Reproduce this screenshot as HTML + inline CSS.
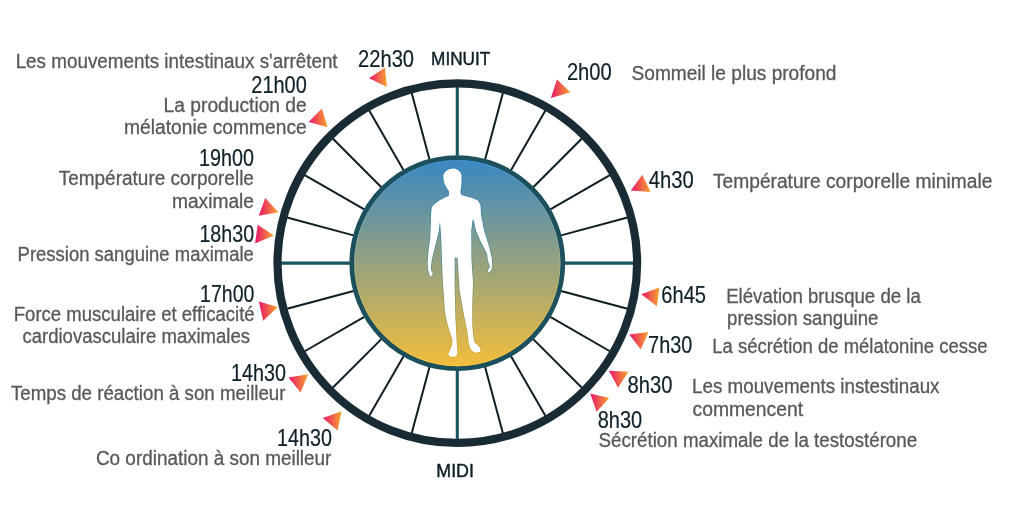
<!DOCTYPE html>
<html><head><meta charset="utf-8"><style>
html,body{margin:0;padding:0;background:#ffffff;width:1024px;height:532px;overflow:hidden}
svg{display:block;will-change:transform}
text{font-family:"Liberation Sans", sans-serif}
</style></head><body>
<svg width="1024" height="532" viewBox="0 0 1024 532">
<defs>
<linearGradient id="bg" x1="0" y1="0" x2="0" y2="1"><stop offset="0" stop-color="#3786c4"/><stop offset="1" stop-color="#f5be3a"/></linearGradient>
<linearGradient id="tg0" gradientUnits="userSpaceOnUse" x1="369.1" y1="0" x2="387.0" y2="0"><stop offset="0" stop-color="#e8156d"/><stop offset="1" stop-color="#f8a52b"/></linearGradient>
<linearGradient id="tg1" gradientUnits="userSpaceOnUse" x1="308.6" y1="0" x2="327.7" y2="0"><stop offset="0" stop-color="#e8156d"/><stop offset="1" stop-color="#f8a52b"/></linearGradient>
<linearGradient id="tg2" gradientUnits="userSpaceOnUse" x1="258.8" y1="0" x2="278.4" y2="0"><stop offset="0" stop-color="#e8156d"/><stop offset="1" stop-color="#f8a52b"/></linearGradient>
<linearGradient id="tg3" gradientUnits="userSpaceOnUse" x1="255.1" y1="0" x2="273.9" y2="0"><stop offset="0" stop-color="#e8156d"/><stop offset="1" stop-color="#f8a52b"/></linearGradient>
<linearGradient id="tg4" gradientUnits="userSpaceOnUse" x1="258.8" y1="0" x2="277.8" y2="0"><stop offset="0" stop-color="#e8156d"/><stop offset="1" stop-color="#f8a52b"/></linearGradient>
<linearGradient id="tg5" gradientUnits="userSpaceOnUse" x1="288.5" y1="0" x2="308.2" y2="0"><stop offset="0" stop-color="#e8156d"/><stop offset="1" stop-color="#f8a52b"/></linearGradient>
<linearGradient id="tg6" gradientUnits="userSpaceOnUse" x1="322.8" y1="0" x2="341.6" y2="0"><stop offset="0" stop-color="#e8156d"/><stop offset="1" stop-color="#f8a52b"/></linearGradient>
<linearGradient id="tg7" gradientUnits="userSpaceOnUse" x1="550.9" y1="0" x2="570.5" y2="0"><stop offset="0" stop-color="#e8156d"/><stop offset="1" stop-color="#f8a52b"/></linearGradient>
<linearGradient id="tg8" gradientUnits="userSpaceOnUse" x1="630.8" y1="0" x2="650.6" y2="0"><stop offset="0" stop-color="#e8156d"/><stop offset="1" stop-color="#f8a52b"/></linearGradient>
<linearGradient id="tg9" gradientUnits="userSpaceOnUse" x1="641.3" y1="0" x2="659.3" y2="0"><stop offset="0" stop-color="#e8156d"/><stop offset="1" stop-color="#f8a52b"/></linearGradient>
<linearGradient id="tg10" gradientUnits="userSpaceOnUse" x1="629.3" y1="0" x2="648.5" y2="0"><stop offset="0" stop-color="#e8156d"/><stop offset="1" stop-color="#f8a52b"/></linearGradient>
<linearGradient id="tg11" gradientUnits="userSpaceOnUse" x1="608.9" y1="0" x2="628.4" y2="0"><stop offset="0" stop-color="#e8156d"/><stop offset="1" stop-color="#f8a52b"/></linearGradient>
<linearGradient id="tg12" gradientUnits="userSpaceOnUse" x1="590.2" y1="0" x2="609.3" y2="0"><stop offset="0" stop-color="#e8156d"/><stop offset="1" stop-color="#f8a52b"/></linearGradient>
<linearGradient id="og" gradientUnits="userSpaceOnUse" x1="0" y1="160" x2="0" y2="366"><stop offset="0" stop-color="#1a74b8"/><stop offset="0.5" stop-color="#4f8a8a"/><stop offset="1" stop-color="#eca510"/></linearGradient>
<linearGradient id="hg" gradientUnits="userSpaceOnUse" x1="0" y1="158" x2="0" y2="368"><stop offset="0" stop-color="#4799d8"/><stop offset="1" stop-color="#fcc93e"/></linearGradient>
</defs>
<line x1="457.30" y1="155.75" x2="457.30" y2="86.95" stroke="#1a5562" stroke-width="3.1"/>
<line x1="485.10" y1="159.41" x2="502.90" y2="92.95" stroke="#0f1d24" stroke-width="2"/>
<line x1="511.00" y1="170.14" x2="545.40" y2="110.56" stroke="#0f1d24" stroke-width="2"/>
<line x1="533.24" y1="187.21" x2="581.89" y2="138.56" stroke="#0f1d24" stroke-width="2"/>
<line x1="550.31" y1="209.45" x2="609.89" y2="175.05" stroke="#0f1d24" stroke-width="2"/>
<line x1="561.04" y1="235.35" x2="627.50" y2="217.55" stroke="#0f1d24" stroke-width="2"/>
<line x1="564.70" y1="263.15" x2="633.50" y2="263.15" stroke="#1a5562" stroke-width="3.1"/>
<line x1="561.04" y1="290.95" x2="627.50" y2="308.75" stroke="#0f1d24" stroke-width="2"/>
<line x1="550.31" y1="316.85" x2="609.89" y2="351.25" stroke="#0f1d24" stroke-width="2"/>
<line x1="533.24" y1="339.09" x2="581.89" y2="387.74" stroke="#0f1d24" stroke-width="2"/>
<line x1="511.00" y1="356.16" x2="545.40" y2="415.74" stroke="#0f1d24" stroke-width="2"/>
<line x1="485.10" y1="366.89" x2="502.90" y2="433.35" stroke="#0f1d24" stroke-width="2"/>
<line x1="457.30" y1="370.55" x2="457.30" y2="439.35" stroke="#1a5562" stroke-width="3.1"/>
<line x1="429.50" y1="366.89" x2="411.70" y2="433.35" stroke="#0f1d24" stroke-width="2"/>
<line x1="403.60" y1="356.16" x2="369.20" y2="415.74" stroke="#0f1d24" stroke-width="2"/>
<line x1="381.36" y1="339.09" x2="332.71" y2="387.74" stroke="#0f1d24" stroke-width="2"/>
<line x1="364.29" y1="316.85" x2="304.71" y2="351.25" stroke="#0f1d24" stroke-width="2"/>
<line x1="353.56" y1="290.95" x2="287.10" y2="308.75" stroke="#0f1d24" stroke-width="2"/>
<line x1="349.90" y1="263.15" x2="281.10" y2="263.15" stroke="#1a5562" stroke-width="3.1"/>
<line x1="353.56" y1="235.35" x2="287.10" y2="217.55" stroke="#0f1d24" stroke-width="2"/>
<line x1="364.29" y1="209.45" x2="304.71" y2="175.05" stroke="#0f1d24" stroke-width="2"/>
<line x1="381.36" y1="187.21" x2="332.71" y2="138.56" stroke="#0f1d24" stroke-width="2"/>
<line x1="403.60" y1="170.14" x2="369.20" y2="110.56" stroke="#0f1d24" stroke-width="2"/>
<line x1="429.50" y1="159.41" x2="411.70" y2="92.95" stroke="#0f1d24" stroke-width="2"/>
<circle cx="457.3" cy="263.15" r="179.8" fill="none" stroke="#192c36" stroke-width="8.2"/>
<circle cx="457.3" cy="263.15" r="105.5" fill="url(#bg)" stroke="#1c505d" stroke-width="4.8"/>
<circle cx="457.3" cy="263.15" r="102.65" fill="none" stroke="url(#hg)" stroke-width="0.9" opacity="0.85"/>
<path d="M 453 168.5
C 447 168.5 443 172.5 443.3 177.5
C 443.5 183 446.5 188 449 191.5
L 448.8 195.8
C 443 198.5 436.9 201 431.9 206.9
C 431 211 431 216 431 220.4
L 430.2 237.4
L 428.5 250.9
L 427.6 262.8
C 427.6 268 428.5 273 430.2 276.4
C 431.5 276.4 433 274.5 432.7 273
C 431.5 271 430.8 270 431 269.6
C 431 265 431.5 261 431.9 259.4
L 435.3 245.8
L 438.6 232.3
L 440 221.3
L 441.2 237.4
L 442 262
C 442.5 275 443 285 443.5 290
L 444.9 311.1
C 446 320 449.1 329.4 449.1 329.4
C 451 335 452.6 340.7 452.6 340.7
C 452 345 450.5 349.2 450.5 349.2
C 449 352 448 354 448.4 354.8
C 449 356.5 451.9 356.9 451.9 356.9
C 454 357 456.1 356.2 456.1 356.2
C 457.5 354.5 457.5 352 457.5 352
L 456.8 343.5
L 455.4 318.2
L 454.7 290
L 454.7 257.7
C 456 257.5 457 257.5 457.5 258
L 459.6 290
L 463.2 311.1
L 467.4 332.3
L 468.8 343.5
C 469.5 347 470.5 349.5 471.6 350.6
C 473 352 475.8 352.7 475.8 352.7
C 478 353 480.8 351.3 480.8 351.3
L 480.1 347.7
C 478 345.5 474.4 342.1 474.4 342.1
C 473 335 472.3 325.2 472.3 325.2
L 472.3 304.1
L 473 282
L 471.5 260
L 471.3 230.1
L 472.8 218.8
L 474.3 222.6
L 475.8 230.1
L 479.5 239.1
L 484.8 249.6
L 487.1 254.1
L 487.8 260.2
L 490 266.9
C 489 268 487.8 270.7 487.8 270.7
C 488 272 489.3 272.2 489.3 272.2
C 490.5 271.5 491.6 269.2 491.6 269.2
L 492.3 264.7
L 491.6 257.1
L 488.6 245.1
L 484 230
L 481 215
C 481 209 480.3 204.5 480.3 204.5
C 479 202 477.3 200 477.3 200
C 472 197.5 464 196 461.3 194.7
L 460.4 191.9
C 461.5 187 462 180 461.5 175
C 460.5 171 457.5 168.5 453 168.5 Z" fill="#ffffff" stroke="url(#og)" stroke-width="1.4" paint-order="stroke"/>
<polygon points="384.9,67.6 387.0,87.0 369.1,78.3" fill="url(#tg0)"/>
<polygon points="321.9,108.4 327.7,127.3 308.6,121.9" fill="url(#tg1)"/>
<polygon points="265.2,197.9 278.4,212.2 258.8,215.7" fill="url(#tg2)"/>
<polygon points="257.7,224.7 273.9,235.6 255.1,243.5" fill="url(#tg3)"/>
<polygon points="258.8,301.5 277.8,307.1 263.2,320.7" fill="url(#tg4)"/>
<polygon points="288.5,377.5 308.2,374.2 300.6,392.5" fill="url(#tg5)"/>
<polygon points="322.8,418.0 341.6,411.3 337.5,430.4" fill="url(#tg6)"/>
<polygon points="556.9,79.4 570.5,92.2 550.9,98.1" fill="url(#tg7)"/>
<polygon points="642.3,174.8 650.6,191.9 630.8,190.6" fill="url(#tg8)"/>
<polygon points="641.3,294.3 659.3,287.5 657.0,306.3" fill="url(#tg9)"/>
<polygon points="629.3,334.5 648.5,332.1 640.8,349.5" fill="url(#tg10)"/>
<polygon points="608.9,370.7 628.4,371.7 618.1,387.7" fill="url(#tg11)"/>
<polygon points="590.2,393.6 609.3,398.1 596.6,411.8" fill="url(#tg12)"/>
<text x="15.65" y="67.60" font-size="20" fill="#5a5759" stroke="#5a5759" stroke-width="0.3" textLength="321.98" lengthAdjust="spacingAndGlyphs">Les mouvements intestinaux s&#39;arrêtent</text>
<text x="358.09" y="67.00" font-size="24" fill="#0f2029" stroke="#0f2029" stroke-width="0.2" textLength="56.00" lengthAdjust="spacingAndGlyphs">22h30</text>
<text x="431.09" y="65.20" font-size="18.9" fill="#0f2029" stroke="#0f2029" stroke-width="0.45" textLength="59.20" lengthAdjust="spacingAndGlyphs">MINUIT</text>
<text x="251.30" y="93.20" font-size="24" fill="#0f2029" stroke="#0f2029" stroke-width="0.2" textLength="55.48" lengthAdjust="spacingAndGlyphs">21h00</text>
<text x="163.62" y="111.90" font-size="20" fill="#5a5759" stroke="#5a5759" stroke-width="0.3" textLength="143.13" lengthAdjust="spacingAndGlyphs">La production de</text>
<text x="124.02" y="134.30" font-size="20" fill="#5a5759" stroke="#5a5759" stroke-width="0.3" textLength="182.73" lengthAdjust="spacingAndGlyphs">mélatonie commence</text>
<text x="198.99" y="166.10" font-size="24" fill="#0f2029" stroke="#0f2029" stroke-width="0.2" textLength="54.98" lengthAdjust="spacingAndGlyphs">19h00</text>
<text x="58.68" y="185.20" font-size="20" fill="#5a5759" stroke="#5a5759" stroke-width="0.3" textLength="195.26" lengthAdjust="spacingAndGlyphs">Température corporelle</text>
<text x="172.03" y="207.80" font-size="20" fill="#5a5759" stroke="#5a5759" stroke-width="0.3" textLength="81.92" lengthAdjust="spacingAndGlyphs">maximale</text>
<text x="199.40" y="242.30" font-size="24" fill="#0f2029" stroke="#0f2029" stroke-width="0.2" textLength="54.77" lengthAdjust="spacingAndGlyphs">18h30</text>
<text x="17.58" y="261.00" font-size="20" fill="#5a5759" stroke="#5a5759" stroke-width="0.3" textLength="236.24" lengthAdjust="spacingAndGlyphs">Pression sanguine maximale</text>
<text x="200.11" y="301.60" font-size="24" fill="#0f2029" stroke="#0f2029" stroke-width="0.2" textLength="54.25" lengthAdjust="spacingAndGlyphs">17h00</text>
<text x="13.78" y="320.60" font-size="20" fill="#5a5759" stroke="#5a5759" stroke-width="0.3" textLength="240.84" lengthAdjust="spacingAndGlyphs">Force musculaire et efficacité</text>
<text x="22.41" y="343.10" font-size="20" fill="#5a5759" stroke="#5a5759" stroke-width="0.3" textLength="227.66" lengthAdjust="spacingAndGlyphs">cardiovasculaire maximales</text>
<text x="230.99" y="381.00" font-size="24" fill="#0f2029" stroke="#0f2029" stroke-width="0.2" textLength="54.98" lengthAdjust="spacingAndGlyphs">14h30</text>
<text x="10.88" y="400.20" font-size="20" fill="#5a5759" stroke="#5a5759" stroke-width="0.3" textLength="274.63" lengthAdjust="spacingAndGlyphs">Temps de réaction à son meilleur</text>
<text x="277.00" y="445.50" font-size="24" fill="#0f2029" stroke="#0f2029" stroke-width="0.2" textLength="54.87" lengthAdjust="spacingAndGlyphs">14h30</text>
<text x="95.94" y="464.50" font-size="20" fill="#5a5759" stroke="#5a5759" stroke-width="0.3" textLength="235.47" lengthAdjust="spacingAndGlyphs">Co ordination à son meilleur</text>
<text x="436.34" y="476.60" font-size="18.7" fill="#0f2029" stroke="#0f2029" stroke-width="0.45" textLength="37.61" lengthAdjust="spacingAndGlyphs">MIDI</text>
<text x="566.88" y="79.70" font-size="24" fill="#0f2029" stroke="#0f2029" stroke-width="0.2" textLength="44.90" lengthAdjust="spacingAndGlyphs">2h00</text>
<text x="631.53" y="79.90" font-size="20" fill="#5a5759" stroke="#5a5759" stroke-width="0.3" textLength="204.90" lengthAdjust="spacingAndGlyphs">Sommeil le plus profond</text>
<text x="648.64" y="187.90" font-size="24" fill="#0f2029" stroke="#0f2029" stroke-width="0.2" textLength="45.06" lengthAdjust="spacingAndGlyphs">4h30</text>
<text x="712.97" y="187.90" font-size="20" fill="#5a5759" stroke="#5a5759" stroke-width="0.3" textLength="279.37" lengthAdjust="spacingAndGlyphs">Température corporelle minimale</text>
<text x="661.28" y="302.50" font-size="24" fill="#0f2029" stroke="#0f2029" stroke-width="0.2" textLength="44.77" lengthAdjust="spacingAndGlyphs">6h45</text>
<text x="726.17" y="302.50" font-size="20" fill="#5a5759" stroke="#5a5759" stroke-width="0.3" textLength="194.63" lengthAdjust="spacingAndGlyphs">Elévation brusque de la</text>
<text x="727.00" y="325.20" font-size="20" fill="#5a5759" stroke="#5a5759" stroke-width="0.3" textLength="151.43" lengthAdjust="spacingAndGlyphs">pression sanguine</text>
<text x="648.08" y="353.30" font-size="24" fill="#0f2029" stroke="#0f2029" stroke-width="0.2" textLength="44.19" lengthAdjust="spacingAndGlyphs">7h30</text>
<text x="712.29" y="353.10" font-size="20" fill="#5a5759" stroke="#5a5759" stroke-width="0.3" textLength="275.14" lengthAdjust="spacingAndGlyphs">La sécrétion de mélatonine cesse</text>
<text x="627.52" y="392.80" font-size="24" fill="#0f2029" stroke="#0f2029" stroke-width="0.2" textLength="44.97" lengthAdjust="spacingAndGlyphs">8h30</text>
<text x="692.06" y="392.70" font-size="20" fill="#5a5759" stroke="#5a5759" stroke-width="0.3" textLength="247.44" lengthAdjust="spacingAndGlyphs">Les mouvements instestinaux</text>
<text x="692.48" y="415.60" font-size="20" fill="#5a5759" stroke="#5a5759" stroke-width="0.3" textLength="110.66" lengthAdjust="spacingAndGlyphs">commencent</text>
<text x="597.73" y="427.60" font-size="24" fill="#0f2029" stroke="#0f2029" stroke-width="0.2" textLength="44.45" lengthAdjust="spacingAndGlyphs">8h30</text>
<text x="598.55" y="446.90" font-size="20" fill="#5a5759" stroke="#5a5759" stroke-width="0.3" textLength="318.58" lengthAdjust="spacingAndGlyphs">Sécrétion maximale de la testostérone</text>
</svg>
</body></html>
